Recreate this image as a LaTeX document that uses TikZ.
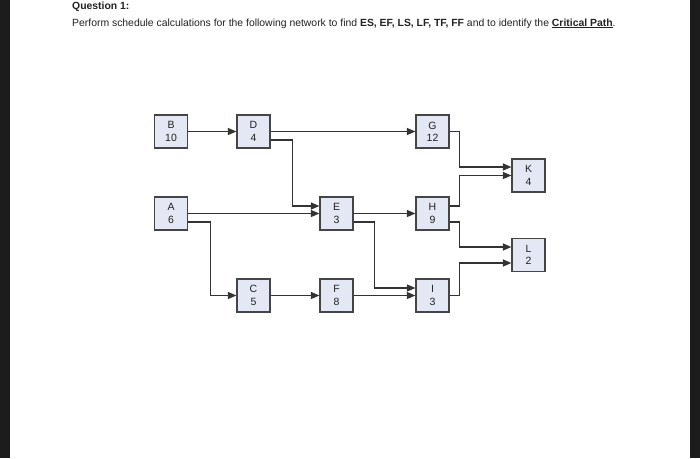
\documentclass[tikz,border=0pt]{standalone}
\usepackage{fontspec}
\setmainfont{Liberation Sans}
\usetikzlibrary{arrows.meta,calc}
\definecolor{boxfill}{HTML}{E4E8F4}
\definecolor{boxline}{HTML}{454545}
\definecolor{lineclr}{HTML}{333333}
\definecolor{barclr}{HTML}{1C1C1C}
\definecolor{txtclr}{HTML}{222222}
\tikzset{
  act/.style={draw=boxline, line width=1.2pt, fill=boxfill, minimum width=33pt, minimum height=33pt,
    inner sep=0pt, align=center, text=txtclr, font=\fontsize{10.5}{12.3}\selectfont},
  conn/.style={draw=lineclr, line width=1.2pt, -{Triangle[length=8.5pt,width=7pt]}},
  hdr/.style={anchor=base west, inner sep=0pt, text=txtclr, font=\fontsize{10.4}{12}\selectfont}
}
\begin{document}
\begin{tikzpicture}[x=1pt,y=-1pt]
\useasboundingbox (0,0) rectangle (700,458);
\fill[white] (0,0) rectangle (700,458);
\fill[barclr] (0,0) rectangle (10,458);
\fill[barclr] (690,0) rectangle (700,458);
\node[hdr] (q) at (72,9) {\textbf{Question 1:}};
\node[hdr] (p) at (72,26) {Perform schedule calculations for the following network to find \textbf{ES, EF, LS, LF, TF, FF} and to identify the \underline{\textbf{Critical Path}}.};
% activities
\node[act] (B) at (171,131.5) {B\\10};
\node[act] (D) at (253.5,131.5) {D\\4};
\node[act] (G) at (432.5,131.5) {G\\12};
\node[act] (K) at (528.5,175.5) {K\\4};
\node[act] (A) at (171,213.5) {A\\6};
\node[act] (E) at (336.5,213.5) {E\\3};
\node[act] (H) at (432.5,213.5) {H\\9};
\node[act] (L) at (528.5,255) {L\\2};
\node[act] (C) at (253.5,295.5) {C\\5};
\node[act] (F) at (336.5,295.5) {F\\8};
\node[act] (I) at (432.5,295.5) {I\\3};
% connectors
\draw[conn] (B.east) -- (D.west);
\draw[conn] (D.east) -- (G.west);
\draw[conn] ([yshift=-8.5pt]D.east) -- ++(22,0) |- ([yshift=7.5pt]E.west);
\draw[conn] (A.east) -- (E.west);
\draw[conn] ([yshift=-8.5pt]A.east) -- ++(22,0) |- (C.west);
\draw[conn] (C.east) -- (F.west);
\draw[conn] (E.east) -- (H.west);
\draw[conn] ([yshift=-8.5pt]E.east) -- ++(21,0) |- ([yshift=7.5pt]I.west);
\draw[conn] (F.east) -- (I.west);
\draw[conn] (G.east) -- ++(10,0) |- ([yshift=8.5pt]K.west);
\draw[conn] ([yshift=7.5pt]H.east) -- ++(10,0) |- (K.west);
\draw[conn] ([yshift=-8.5pt]H.east) -- ++(10,0) |- ([yshift=8pt]L.west);
\draw[conn] (I.east) -- ++(10,0) |- ([yshift=-8pt]L.west);
\end{tikzpicture}
\end{document}
